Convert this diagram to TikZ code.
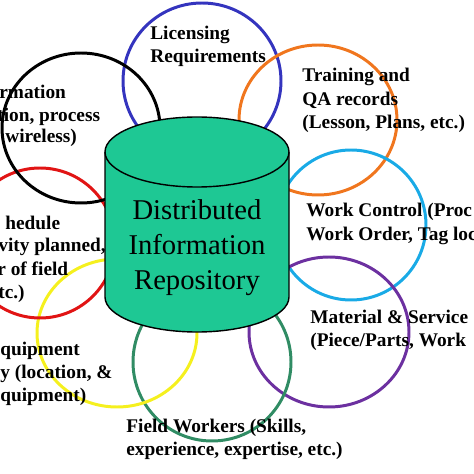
\documentclass[tikz,border=0pt]{standalone}
\usepackage{fontspec}
\setmainfont{Liberation Serif}
\definecolor{repogreen}{RGB}{30,200,148}
\definecolor{ringblue}{RGB}{52,52,190}
\definecolor{ringorange}{RGB}{240,118,30}
\definecolor{ringcyan}{RGB}{25,170,230}
\definecolor{ringpurple}{RGB}{108,48,160}
\definecolor{ringgreen}{RGB}{48,140,100}
\definecolor{ringyellow}{RGB}{245,240,30}
\definecolor{ringred}{RGB}{225,20,20}
\tikzset{
  ring/.style = {line width = 1.7pt},
  lbl/.style = {inner sep = 0pt, align = left, font = \fontsize{11}{13.4}\selectfont\bfseries},
  bit/.style = {inner sep = 0pt, anchor = west, font = \fontsize{11}{13.4}\selectfont\bfseries}
}
\begin{document}
\begin{tikzpicture}[x = 0.02cm, y = 0.02cm]
\useasboundingbox (0,0) rectangle (474,474);
\clip (0,0) rectangle (474,474);
% rings
\draw[ring, draw = ringblue] (202,393) ellipse [x radius = 79, y radius = 78];
\draw[ring, draw = ringorange] (318,354) ellipse [x radius = 79, y radius = 75];
\draw[ring, draw = ringcyan] (351,249) ellipse [x radius = 75, y radius = 75];
\draw[ring, draw = ringpurple] (329,142) ellipse [x radius = 80, y radius = 75];
\draw[ring, draw = ringgreen] (212,112) ellipse [x radius = 79, y radius = 79];
\draw[ring, draw = ringyellow] (117,141) ellipse [x radius = 80, y radius = 74];
\draw[ring, draw = ringred] (40,231) ellipse [x radius = 75, y radius = 75];
\draw[ring, draw = black] (81,346) ellipse [x radius = 79, y radius = 75];
% repository
\draw[thick, fill = repogreen] (105,322) -- (105,177)
  arc[start angle = 180, end angle = 360, x radius = 92, y radius = 35]
  -- (289,322)
  arc[start angle = 0, end angle = 180, x radius = 92, y radius = 35] -- cycle;
\draw[thick] (105,322) arc[start angle = 180, end angle = 360, x radius = 92, y radius = 35];
\node[align = center, inner sep = 0pt, font = \fontsize{16.3}{20}\selectfont] (repo) at (197,226) {Distributed\\Information\\Repository};
% labels
\node[lbl, anchor = west] (lic) at (150,427.5) {Licensing\\Requirements};
\node[lbl, anchor = west] (train) at (302,373.5) {Training and\\QA records\\(Lesson, Plans, etc.)};
\node[lbl, anchor = west] (work) at (306,250) {Work Control (Proc\\Work Order, Tag loc};
\node[lbl, anchor = west] (mat) at (310,143.5) {Material \& Service\\(Piece/Parts, Work};
\node[lbl, anchor = west] (field) at (126,34.5) {Field Workers (Skills,\\experience, expertise, etc.)};
\node[bit] (eqa) at (0,123) {quipment};
\node[bit] (eqb) at (0,100) {y (location, \&};
\node[bit] (eqc) at (0,77) {quipment)};
\node[bit] (scha) at (5,251) {hedule};
\node[bit] (schb) at (-2,227) {vity planned,};
\node[bit] (schc) at (-3,205) {r of field};
\node[bit] (schd) at (-2,180) {tc.)};
\node[bit] (infa) at (-1,382) {rmation};
\node[bit] (infb) at (-3,357) {tion, process};
\node[bit] (infc) at (5,336) {wireless)};
\end{tikzpicture}
\end{document}
